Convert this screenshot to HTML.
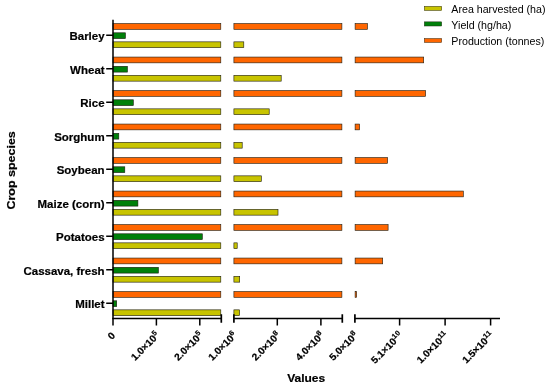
<!DOCTYPE html>
<html><head><meta charset="utf-8"><title>Crop chart</title>
<style>html,body{margin:0;padding:0;background:#fff}svg{display:block}text{font-family:"Liberation Sans",Arial,sans-serif;fill:#000}.b{font-weight:bold;stroke:#000;stroke-width:0.2px}</style></head><body>
<svg width="550" height="388" viewBox="0 0 550 388">
<rect width="550" height="388" fill="#fff"/>
<g stroke="#1a1a10" stroke-width="0.6">
<rect x="113.0" y="23.55" width="107.8" height="5.8" fill="#FF6600"/>
<rect x="233.9" y="23.55" width="108.0" height="5.8" fill="#FF6600"/>
<rect x="355.1" y="23.55" width="12.4" height="5.8" fill="#FF6600"/>
<rect x="113.0" y="32.80" width="12.4" height="5.8" fill="#00800A"/>
<rect x="113.0" y="41.85" width="107.8" height="5.8" fill="#C8C400"/>
<rect x="233.9" y="41.85" width="9.9" height="5.8" fill="#C8C400"/>
<rect x="113.0" y="57.05" width="107.8" height="5.8" fill="#FF6600"/>
<rect x="233.9" y="57.05" width="108.0" height="5.8" fill="#FF6600"/>
<rect x="355.1" y="57.05" width="68.6" height="5.8" fill="#FF6600"/>
<rect x="113.0" y="66.30" width="14.4" height="5.8" fill="#00800A"/>
<rect x="113.0" y="75.35" width="107.8" height="5.8" fill="#C8C400"/>
<rect x="233.9" y="75.35" width="47.3" height="5.8" fill="#C8C400"/>
<rect x="113.0" y="90.55" width="107.8" height="5.8" fill="#FF6600"/>
<rect x="233.9" y="90.55" width="108.0" height="5.8" fill="#FF6600"/>
<rect x="355.1" y="90.55" width="70.5" height="5.8" fill="#FF6600"/>
<rect x="113.0" y="99.80" width="20.3" height="5.8" fill="#00800A"/>
<rect x="113.0" y="108.85" width="107.8" height="5.8" fill="#C8C400"/>
<rect x="233.9" y="108.85" width="35.3" height="5.8" fill="#C8C400"/>
<rect x="113.0" y="124.05" width="107.8" height="5.8" fill="#FF6600"/>
<rect x="233.9" y="124.05" width="108.0" height="5.8" fill="#FF6600"/>
<rect x="355.1" y="124.05" width="4.5" height="5.8" fill="#FF6600"/>
<rect x="113.0" y="133.30" width="5.8" height="5.8" fill="#00800A"/>
<rect x="113.0" y="142.35" width="107.8" height="5.8" fill="#C8C400"/>
<rect x="233.9" y="142.35" width="8.3" height="5.8" fill="#C8C400"/>
<rect x="113.0" y="157.55" width="107.8" height="5.8" fill="#FF6600"/>
<rect x="233.9" y="157.55" width="108.0" height="5.8" fill="#FF6600"/>
<rect x="355.1" y="157.55" width="32.5" height="5.8" fill="#FF6600"/>
<rect x="113.0" y="166.80" width="11.8" height="5.8" fill="#00800A"/>
<rect x="113.0" y="175.85" width="107.8" height="5.8" fill="#C8C400"/>
<rect x="233.9" y="175.85" width="27.4" height="5.8" fill="#C8C400"/>
<rect x="113.0" y="191.05" width="107.8" height="5.8" fill="#FF6600"/>
<rect x="233.9" y="191.05" width="108.0" height="5.8" fill="#FF6600"/>
<rect x="355.1" y="191.05" width="108.2" height="5.8" fill="#FF6600"/>
<rect x="113.0" y="200.30" width="24.9" height="5.8" fill="#00800A"/>
<rect x="113.0" y="209.35" width="107.8" height="5.8" fill="#C8C400"/>
<rect x="233.9" y="209.35" width="44.1" height="5.8" fill="#C8C400"/>
<rect x="113.0" y="224.55" width="107.8" height="5.8" fill="#FF6600"/>
<rect x="233.9" y="224.55" width="108.0" height="5.8" fill="#FF6600"/>
<rect x="355.1" y="224.55" width="33.0" height="5.8" fill="#FF6600"/>
<rect x="113.0" y="233.80" width="89.3" height="5.8" fill="#00800A"/>
<rect x="113.0" y="242.85" width="107.8" height="5.8" fill="#C8C400"/>
<rect x="233.9" y="242.85" width="3.3" height="5.8" fill="#C8C400"/>
<rect x="113.0" y="258.05" width="107.8" height="5.8" fill="#FF6600"/>
<rect x="233.9" y="258.05" width="108.0" height="5.8" fill="#FF6600"/>
<rect x="355.1" y="258.05" width="27.6" height="5.8" fill="#FF6600"/>
<rect x="113.0" y="267.30" width="45.4" height="5.8" fill="#00800A"/>
<rect x="113.0" y="276.35" width="107.8" height="5.8" fill="#C8C400"/>
<rect x="233.9" y="276.35" width="5.8" height="5.8" fill="#C8C400"/>
<rect x="113.0" y="291.55" width="107.8" height="5.8" fill="#FF6600"/>
<rect x="233.9" y="291.55" width="108.0" height="5.8" fill="#FF6600"/>
<rect x="355.1" y="291.55" width="1.5" height="5.8" fill="#FF6600"/>
<rect x="113.0" y="300.80" width="3.7" height="5.8" fill="#00800A"/>
<rect x="113.0" y="309.85" width="107.8" height="5.8" fill="#C8C400"/>
<rect x="233.9" y="309.85" width="5.7" height="5.8" fill="#C8C400"/>
</g>
<g stroke="#000" stroke-width="1.5" fill="none">
<path d="M113 19.75V325.4" stroke-width="1.5"/>
<path d="M112.25 318.5H221.3M233.9 318.5H342.3M354.9 318.5H500"/>
<path d="M156.4 318.5V325.4M199.8 318.5V325.4M277.3 318.5V325.4M320.9 318.5V325.4M399.6 318.5V325.4M445.1 318.5V325.4M490.6 318.5V325.4"/>
<path d="M221.3 314.3V322.7M233.9 314.3V322.7M342.3 314.3V322.7M354.9 314.3V322.7" stroke-width="1.7"/>
<path d="M106.2 35.30H113M106.2 68.80H113M106.2 102.30H113M106.2 135.80H113M106.2 169.30H113M106.2 202.80H113M106.2 236.30H113M106.2 269.80H113M106.2 303.30H113"/>
</g>
<text class="b" transform="translate(104.6 40.00) scale(1.07 1)" font-size="10.75" text-anchor="end">Barley</text>
<text class="b" transform="translate(104.6 73.50) scale(1.07 1)" font-size="10.75" text-anchor="end">Wheat</text>
<text class="b" transform="translate(104.6 107.00) scale(1.07 1)" font-size="10.75" text-anchor="end">Rice</text>
<text class="b" transform="translate(104.6 140.50) scale(1.07 1)" font-size="10.75" text-anchor="end">Sorghum</text>
<text class="b" transform="translate(104.6 174.00) scale(1.07 1)" font-size="10.75" text-anchor="end">Soybean</text>
<text class="b" transform="translate(104.6 207.50) scale(1.07 1)" font-size="10.75" text-anchor="end">Maize (corn)</text>
<text class="b" transform="translate(104.6 241.00) scale(1.07 1)" font-size="10.75" text-anchor="end">Potatoes</text>
<text class="b" transform="translate(104.6 274.50) scale(1.07 1)" font-size="10.75" text-anchor="end">Cassava, fresh</text>
<text class="b" transform="translate(104.6 308.00) scale(1.07 1)" font-size="10.75" text-anchor="end">Millet</text>
<text class="b" font-size="9.85" text-anchor="end" transform="translate(115.9 336.3) rotate(-45) scale(1.04 1)">0</text>
<text class="b" font-size="9.85" text-anchor="end" transform="translate(160.4 335.7) rotate(-45) scale(1.04 1)">1.0×10<tspan font-size="7.2" dy="-3.8" letter-spacing="0.3">5</tspan></text>
<text class="b" font-size="9.85" text-anchor="end" transform="translate(203.8 335.7) rotate(-45) scale(1.04 1)">2.0×10<tspan font-size="7.2" dy="-3.8" letter-spacing="0.3">5</tspan></text>
<text class="b" font-size="9.85" text-anchor="end" transform="translate(237.7 335.7) rotate(-45) scale(1.04 1)">1.0×10<tspan font-size="7.2" dy="-3.8" letter-spacing="0.3">6</tspan></text>
<text class="b" font-size="9.85" text-anchor="end" transform="translate(281.3 335.7) rotate(-45) scale(1.04 1)">2.0×10<tspan font-size="7.2" dy="-3.8" letter-spacing="0.3">8</tspan></text>
<text class="b" font-size="9.85" text-anchor="end" transform="translate(324.9 335.7) rotate(-45) scale(1.04 1)">4.0×10<tspan font-size="7.2" dy="-3.8" letter-spacing="0.3">8</tspan></text>
<text class="b" font-size="9.85" text-anchor="end" transform="translate(358.8 335.7) rotate(-45) scale(1.04 1)">5.0×10<tspan font-size="7.2" dy="-3.8" letter-spacing="0.3">8</tspan></text>
<text class="b" font-size="9.85" text-anchor="end" transform="translate(403.6 335.7) rotate(-45) scale(1.04 1)">5.1×10<tspan font-size="7.2" dy="-3.8" letter-spacing="0.3">10</tspan></text>
<text class="b" font-size="9.85" text-anchor="end" transform="translate(449.1 335.7) rotate(-45) scale(1.04 1)">1.0×10<tspan font-size="7.2" dy="-3.8" letter-spacing="0.3">11</tspan></text>
<text class="b" font-size="9.85" text-anchor="end" transform="translate(494.5 335.7) rotate(-45) scale(1.04 1)">1.5×10<tspan font-size="7.2" dy="-3.8" letter-spacing="0.3">11</tspan></text>
<text class="b" font-size="11.2" text-anchor="middle" transform="translate(306.2 381.55) scale(1.07 1)">Values</text>
<text class="b" font-size="11.3" text-anchor="middle" transform="translate(15.1 170.4) rotate(-90) scale(1.105 1)">Crop species</text>
<rect x="424.3" y="6.30" width="17.4" height="4.2" fill="#C8C400" stroke="#2a2a1a" stroke-width="0.5"/>
<text font-size="10.67" x="451.3" y="12.80">Area harvested (ha)</text>
<rect x="424.3" y="21.85" width="17.4" height="4.15" fill="#00800A" stroke="#2a2a1a" stroke-width="0.5"/>
<text font-size="10.67" x="451.3" y="28.50">Yield (hg/ha)</text>
<rect x="424.3" y="38.45" width="17.4" height="4.05" fill="#FF6600" stroke="#2a2a1a" stroke-width="0.5"/>
<text font-size="10.67" x="451.3" y="44.90">Production (tonnes)</text>
</svg></body></html>
